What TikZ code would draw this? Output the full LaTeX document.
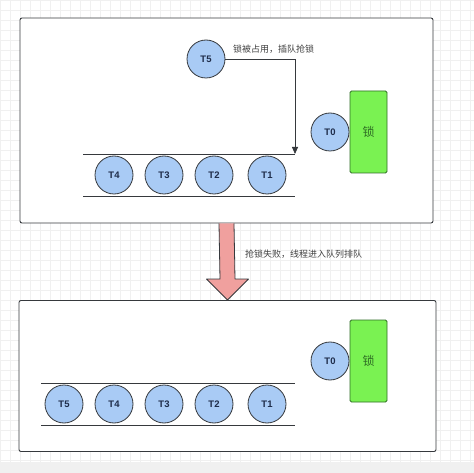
\documentclass[tikz,border=0pt]{standalone}
\usepackage{fontspec}
\setmainfont{Liberation Sans}
\newfontfamily\cjk{Noto Sans CJK SC}
\usepackage{tikz}
\usetikzlibrary{arrows.meta, positioning, calc}
\definecolor{threadblue}{HTML}{A9CBF5}
\definecolor{edgegray}{HTML}{36393D}
\definecolor{threadtext}{HTML}{1F2D4A}
\definecolor{lockgreen}{HTML}{7AF252}
\definecolor{lockedge}{HTML}{2F6E25}
\definecolor{blockred}{HTML}{F0A09E}
\definecolor{labelgray}{HTML}{404040}
\definecolor{gridgray}{HTML}{F0F0F0}

\begin{document}
\begin{tikzpicture}[x=1pt, y=-1pt,
    thread/.style={circle, draw=edgegray, fill=threadblue, line width=0.8pt, minimum size=38pt, inner sep=0pt, text=threadtext, font=\fontsize{9.5}{10}\selectfont\bfseries},
    lockbox/.style={rectangle, rounded corners=1.5pt, draw=lockedge, fill=lockgreen, line width=0.8pt, minimum width=37pt, minimum height=82pt, text=lockedge, font=\fontsize{12}{13}\selectfont\cjk},
    frame/.style={rectangle, rounded corners=2pt, draw=edgegray, fill=white, line width=0.9pt},
    note/.style={text=labelgray, inner sep=0pt, font=\fontsize{9}{10}\selectfont\cjk}]
    \useasboundingbox (0,0) rectangle (474,473);
    \foreach \g in {0,10,...,470} {
        \draw[gridgray] (\g,0) -- (\g,473);
        \draw[gridgray] (0,\g) -- (474,\g);
    }
    \fill[gray!12] (0,462) rectangle (474,473);

    % upper state
    \node[frame, minimum width=413pt, minimum height=205pt] (top) at (226.5,120.5) {};
    \node[thread] (t5) at (206,59) {T5};
    \node[note, anchor=west] (n1) at (233,49) {锁被占用，插队抢锁};
    \node[thread] (t0) at (330,132) {T0};
    \node[lockbox] (lock) at (368.5,132) {锁};
    \node[thread] (t4) at (114,175) {T4};
    \node[thread] (t3) at (164,175) {T3};
    \node[thread] (t2) at (214,175) {T2};
    \node[thread] (t1) at (267,175) {T1};
    \coordinate (qend) at (295,154);
    \draw[edgegray, line width=0.9pt] (83,154) -- (qend);
    \draw[edgegray, line width=0.9pt] (83,196) -- (295,196);
    \draw[edgegray, line width=0.8pt, -{Triangle[length=7pt,width=6pt]}] (t5.east) -| (qend);

    % lower state
    \node[frame, minimum width=417pt, minimum height=151pt] (bottom) at (227.5,376) {};
    \node[thread] (b0) at (330,361) {T0};
    \node[lockbox] (block) at (368.5,361) {锁};
    \node[thread] (b5) at (64,404) {T5};
    \node[thread] (b4) at (114,404) {T4};
    \node[thread] (b3) at (164,404) {T3};
    \node[thread] (b2) at (214,404) {T2};
    \node[thread] (b1) at (267,404) {T1};
    \draw[edgegray, line width=0.9pt] (41,383) -- (295,383);
    \draw[edgegray, line width=0.9pt] (41,425) -- (295,425);

    % transition
    \draw[fill=blockred, draw=edgegray, line width=0.8pt, line join=round]
        ($(top.south)+(-7.5,0)$) -- ($(bottom.north)+(-7.5,-21)$) -- ($(bottom.north)+(-21,-21)$)
        -- (bottom.north) -- ($(bottom.north)+(21,-21)$) -- ($(bottom.north)+(7.5,-21)$)
        -- ($(top.south)+(7.5,0)$);
    \node[note, anchor=west] (n2) at (245,254) {抢锁失败，线程进入队列排队};
\end{tikzpicture}
\end{document}
